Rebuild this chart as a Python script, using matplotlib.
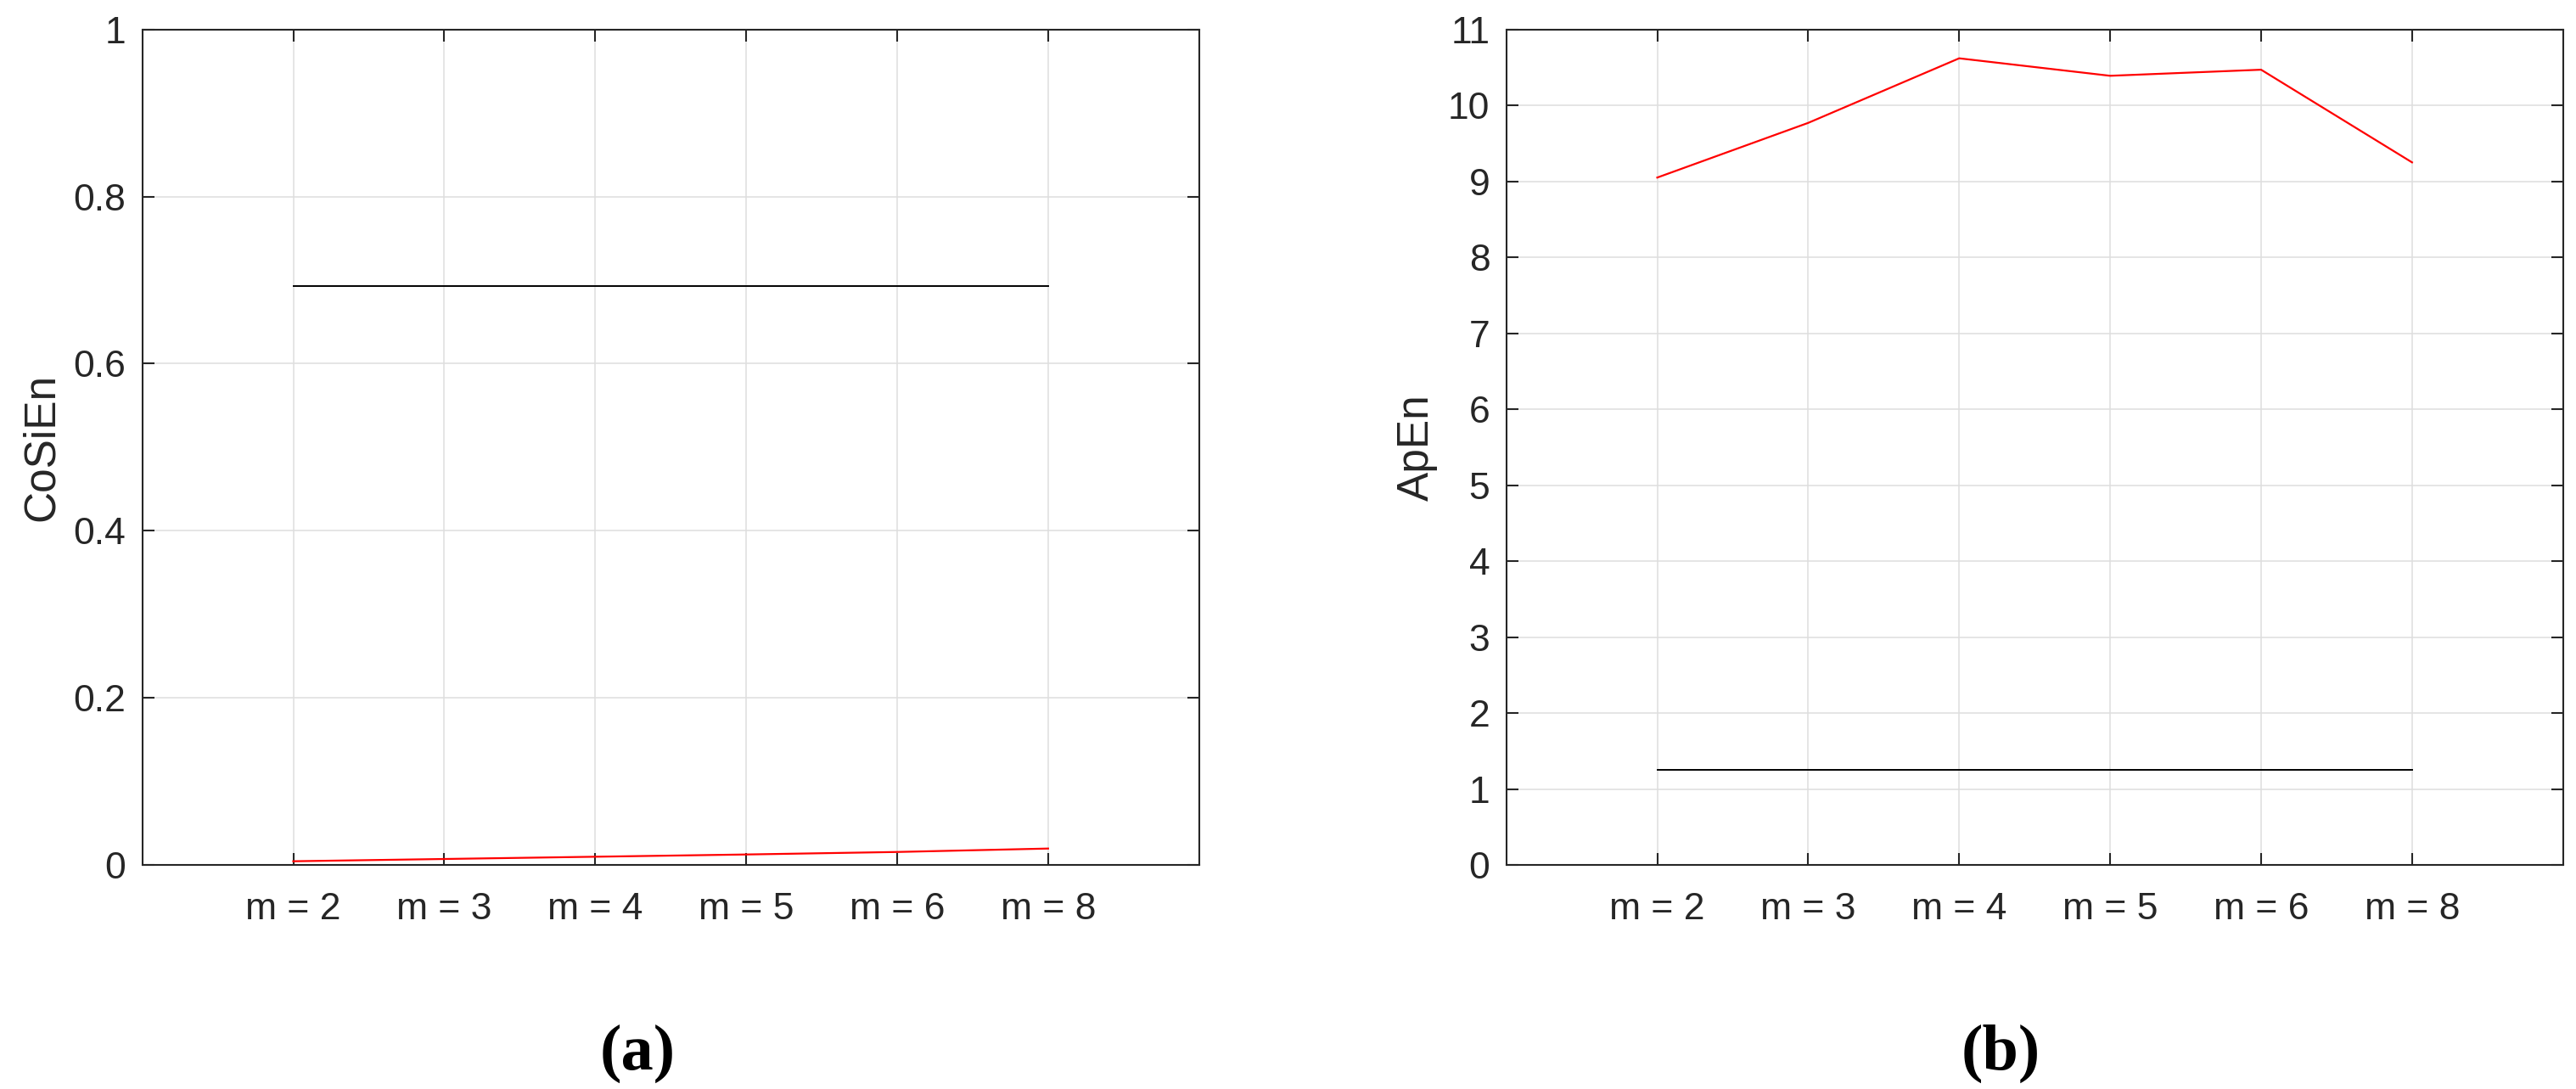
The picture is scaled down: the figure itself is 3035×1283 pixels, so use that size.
import matplotlib
matplotlib.use("Agg")
import matplotlib.pyplot as plt

# data
m_labels = ["m = 2", "m = 3", "m = 4", "m = 5", "m = 6", "m = 8"]
cosien_red = [0.0044, 0.0071, 0.0098, 0.0125, 0.0155, 0.0196]
cosien_black = [0.6931, 0.6931, 0.6931, 0.6931, 0.6931, 0.6931]
apen_red = [9.05, 9.77, 10.62, 10.39, 10.47, 9.25]
apen_black = [1.254, 1.254, 1.254, 1.254, 1.254, 1.254]

cosien_ticks = [0, 0.2, 0.4, 0.6, 0.8, 1]
cosien_ticklabels = ["0", "0.2", "0.4", "0.6", "0.8", "1"]
apen_ticks = list(range(0, 12))

W, H = 3035, 1283
DPI = 100
AX_COLOR = "#262626"
GRID_COLOR = "#dedede"

plt.rcParams["font.family"] = ["Liberation Sans", "DejaVu Sans"]

fig = plt.figure(figsize=(W / DPI, H / DPI), dpi=DPI)

ax_w = 1245 / W
ax_h = (1019 - 34.7) / H
ax_y0 = (H - 1019) / H

ax_a = fig.add_axes([167.7 / W, ax_y0, ax_w, ax_h])
ax_b = fig.add_axes([1774.7 / W, ax_y0, ax_w, ax_h])

x = list(range(1, len(m_labels) + 1))


def style_axes(ax):
    ax.set_xlim(0, len(m_labels) + 1)
    ax.set_xticks(x)
    ax.set_xticklabels(m_labels)
    ax.grid(True, color=GRID_COLOR, linewidth=1.1)
    ax.set_axisbelow(True)
    for sp in ax.spines.values():
        sp.set_color(AX_COLOR)
        sp.set_linewidth(1.5)
    ax.tick_params(
        axis="both",
        direction="in",
        length=10,
        width=1.5,
        color=AX_COLOR,
        labelcolor=AX_COLOR,
        labelsize=32,
        top=True,
        right=True,
    )
    ax.tick_params(axis="y", pad=14)
    ax.tick_params(axis="x", pad=23)


# -------------------------
# (a) CoSiEn
# -------------------------
ax_a.plot(x, cosien_black, color="black", linewidth=1.4)
ax_a.plot(x, cosien_red, color="red", linewidth=1.6)
style_axes(ax_a)
ax_a.set_ylim(0, 1)
ax_a.set_yticks(cosien_ticks)
ax_a.set_yticklabels(cosien_ticklabels)

# -------------------------
# (b) ApEn
# -------------------------
ax_b.plot(x, apen_black, color="black", linewidth=1.4)
ax_b.plot(x, apen_red, color="red", linewidth=1.6)
style_axes(ax_b)
ax_b.set_ylim(0, 11)
ax_b.set_yticks(apen_ticks)

# y labels
label_y = (H - 527) / H
fig.text(63 / W, label_y, "CoSiEn", rotation=90, rotation_mode="anchor",
         ha="center", va="baseline", fontsize=37, color=AX_COLOR)
fig.text(1683 / W, label_y, "ApEn", rotation=90, rotation_mode="anchor",
         ha="center", va="baseline", fontsize=37, color=AX_COLOR)

# sub captions
cap_y = (H - 1260) / H
fig.text(751.5 / W, cap_y, "(a)", ha="center", va="baseline",
         fontsize=55, fontweight="bold", family=["Liberation Serif", "DejaVu Serif"])
fig.text(2357.5 / W, cap_y, "(b)", ha="center", va="baseline",
         fontsize=55, fontweight="bold", family=["Liberation Serif", "DejaVu Serif"])

fig.savefig("out.png", dpi=DPI)
